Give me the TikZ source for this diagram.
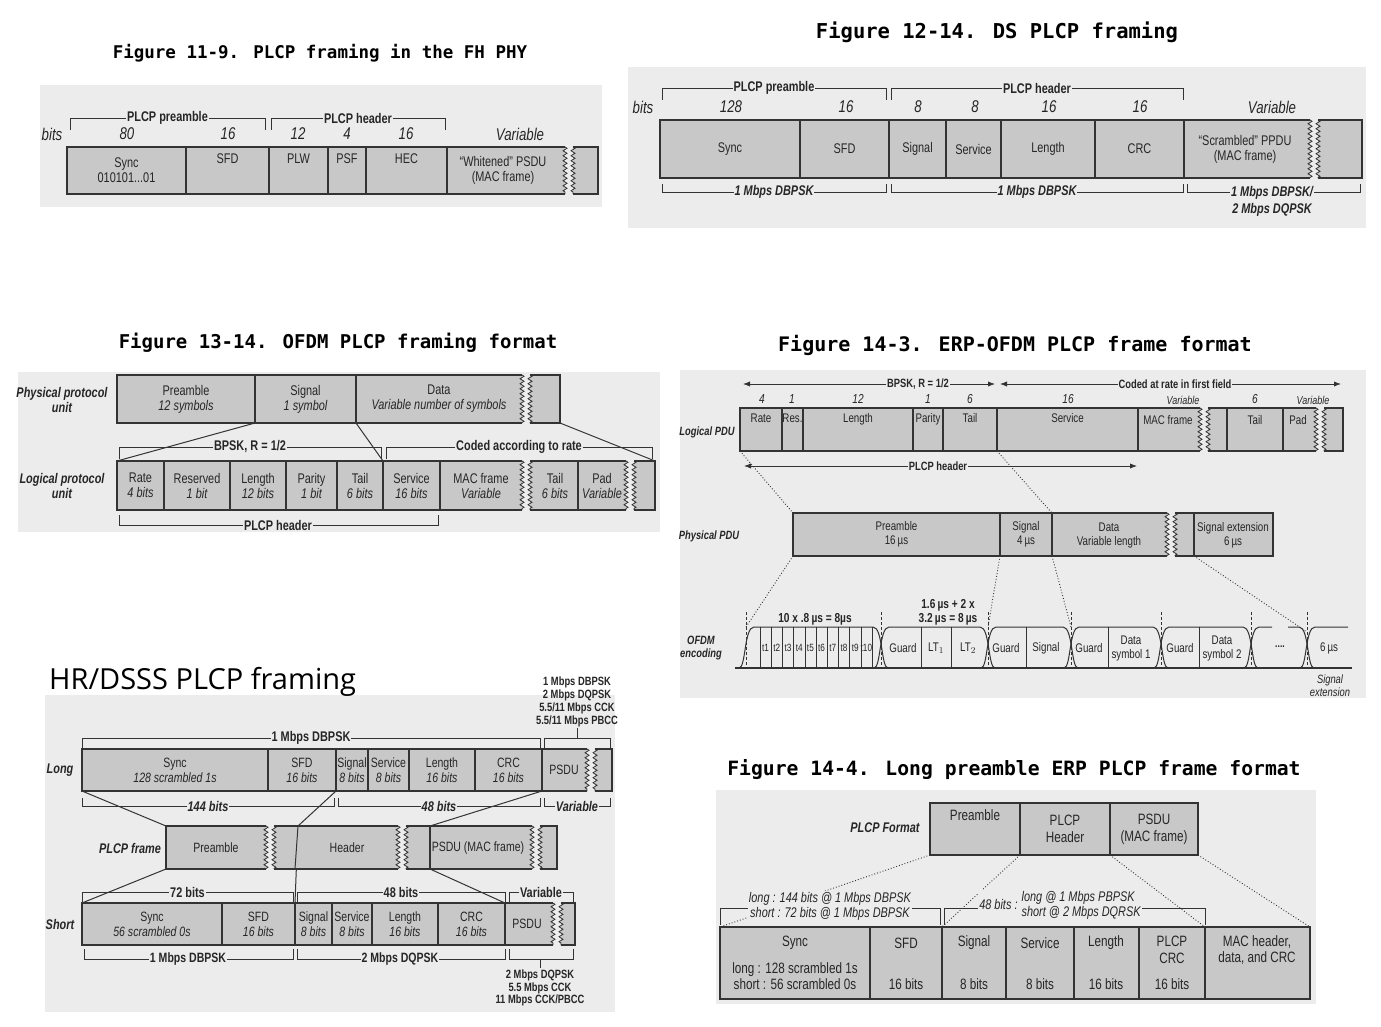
\documentclass[tikz,border=0pt]{standalone}
\usepackage{fontspec}
\setmainfont{Liberation Sans}
\newfontfamily\cond[FakeStretch=0.78]{Liberation Sans}
\newfontfamily\ttl{DejaVu Sans Mono}
\newfontfamily\osans{Open Sans}
\usetikzlibrary{decorations.pathmorphing,arrows.meta}
\definecolor{panelc}{HTML}{ECECEC}
\definecolor{boxc}{HTML}{C8C8C8}
\definecolor{linec}{HTML}{333333}
\tikzset{
 bx/.style={draw=linec,fill=boxc,line width=1.1pt},
 zz/.style={draw=linec,line width=0.8pt,decorate,decoration={zigzag,segment length=5,amplitude=2}},
 lbl/.style={font=\cond\fontsize{14}{15}\selectfont,align=center,text=black!85,inner sep=1pt},
 ilbl/.style={lbl,font=\cond\itshape\fontsize{14}{15}\selectfont},
 side/.style={lbl,font=\cond\bfseries\itshape\fontsize{14}{15}\selectfont},
 num/.style={lbl,font=\cond\itshape\fontsize{17}{17}\selectfont},
 tl/.style={font=\ttl\bfseries\fontsize{19}{20}\selectfont,inner sep=0pt},
 brl/.style={draw=linec,line width=0.8pt},
 dot/.style={draw=linec,line width=0.9pt,dotted},
 sol/.style={draw=linec,line width=1pt},
 panel/.style={fill=panelc,draw=none}
}
\newcommand\fld[5]{\draw[bx] (#1,#3) rectangle (#2,#4); \node[lbl] at ({(#1+#2)/2},{(#3+#4)/2}) {#5};}
\newcommand\brkgap[3]{\fill[panelc] (#1,#2-2) rectangle (#1+8,#3+2); \draw[zz] (#1,#2)--(#1,#3); \draw[zz] (#1+8,#2)--(#1+8,#3);}
\newcommand\brtop[4]{\draw[brl] (#1,#3+12) -- (#1,#3) -- (#2,#3) -- (#2,#3+12); \node[lbl,fill=panelc,font=\cond\bfseries\fontsize{14}{15}\selectfont] at ({(#1+#2)/2},#3) {#4};}
\newcommand\brbot[4]{\draw[brl] (#1,#3-8) -- (#1,#3) -- (#2,#3) -- (#2,#3-8); \node[lbl,fill=panelc,font=\cond\bfseries\itshape\fontsize{14}{15}\selectfont] at ({(#1+#2)/2},#3) {#4};}
\newcommand\sym[2]{\draw[linec,line width=1pt] (#1-7,668) .. controls (#1,668) and (#1-2,627) .. (#1+8,627) -- (#2-8,627) .. controls (#2+2,627) and (#2,668) .. (#2+7,668);}
\begin{document}
\begin{tikzpicture}[x=1pt,y=-1pt]
\useasboundingbox (0,0) rectangle (1381,1027);
\fill[white] (0,0) rectangle (1381,1027);
% ===== Panel 1: FH =====
\node[tl,font=\ttl\bfseries\fontsize{17.5}{18}\selectfont] (t1) at (320,53) {Figure 11-9. PLCP framing in the FH PHY};
\fill[panelc] (40,85) rectangle (602,207);
\fld{67}{186}{147}{194}{Sync\\010101...01}
\fld{186}{269}{147}{194}{SFD\\[9pt]~}
\fld{269}{328}{147}{194}{PLW\\[9pt]~}
\fld{328}{366}{147}{194}{PSF\\[9pt]~}
\fld{366}{447}{147}{194}{HEC\\[9pt]~}
\fld{447}{598}{147}{194}{}
\node[lbl] at (503,170) {“Whitened” PSDU\\(MAC frame)};
\brkgap{565}{147}{194}
\node[num] at (52,134) {bits};
\foreach \x/\t in {127/80,228/16,298/12,347/4,406/16,520/Variable} \node[num] at (\x,134) {\t};
\brtop{70}{265}{118}{PLCP preamble}
\brtop{271}{445}{118}{PLCP header}
% ===== Panel 2: DS =====
\node[tl,font=\ttl\bfseries\fontsize{20.5}{21}\selectfont] (t2) at (997,32) {Figure 12-14. DS PLCP framing};
\fill[panelc] (628,67) rectangle (1366,228);
\fld{660}{800}{120}{178}{Sync}
\fld{800}{889}{120}{178}{SFD}
\fld{889}{946}{120}{178}{Signal}
\fld{946}{1001}{120}{178}{Service}
\fld{1001}{1095}{120}{178}{Length}
\fld{1095}{1184}{120}{178}{CRC}
\fld{1184}{1362}{120}{178}{}
\node[lbl] at (1245,149) {“Scrambled” PPDU\\(MAC frame)};
\brkgap{1310}{120}{178}
\node[num] at (643,107) {bits};
\foreach \x/\t in {731/128,846/16,918/8,975/8,1049/16,1140/16,1272/Variable} \node[num] at (\x,107) {\t};
\brtop{662}{886}{88}{PLCP preamble}
\brtop{891}{1183}{88}{PLCP header}
\brbot{662}{886}{192}{1 Mbps DBPSK}
\brbot{891}{1183}{192}{1 Mbps DBPSK}
\draw[brl] (1187,184)--(1187,192)--(1360,192)--(1360,184);
\node[lbl,fill=panelc,font=\cond\bfseries\itshape\fontsize{14}{17}\selectfont] at (1272,201) {1 Mbps DBPSK/\\2 Mbps DQPSK};
% ===== Panel 3: OFDM =====
\node[tl] (t3) at (338,343) {Figure 13-14. OFDM PLCP framing format};
\fill[panelc] (18,372) rectangle (660,532);
\draw[sol] (255,423)--(117,461);
\draw[sol] (356,423)--(383,461);
\draw[sol] (560,423)--(655,461);
\fld{117}{255}{375}{423}{Preamble\\\itshape 12 symbols}
\fld{255}{356}{375}{423}{Signal\\\itshape 1 symbol}
\fld{356}{560}{375}{423}{}
\node[lbl] at (439,399) {Data\\\itshape Variable number of symbols};
\brkgap{522}{375}{423}
\fld{117}{164}{461}{510}{Rate\\\itshape 4 bits}
\fld{164}{230}{461}{510}{Reserved\\\itshape 1 bit}
\fld{230}{286}{461}{510}{Length\\\itshape 12 bits}
\fld{286}{337}{461}{510}{Parity\\\itshape 1 bit}
\fld{337}{383}{461}{510}{Tail\\\itshape 6 bits}
\fld{383}{440}{461}{510}{Service\\\itshape 16 bits}
\fld{440}{655}{461}{510}{}
\node[lbl] at (481,486) {MAC frame\\\itshape Variable};
\draw[bx] (578,461)--(578,510);
\node[lbl] at (555,486) {Tail\\\itshape 6 bits};
\node[lbl] at (602,486) {Pad\\\itshape Variable};
\brkgap{522}{461}{510}
\brkgap{626}{461}{510}
\node[side] at (62,400) {Physical protocol\\unit};
\node[side] at (62,486) {Logical protocol\\unit};
\brtop{119}{381}{447}{BPSK, R = 1/2}
\brtop{386}{652}{447}{Coded according to rate}
\draw[brl] (119,515)--(119,525)--(438,525)--(438,515);
\node[lbl,fill=panelc,font=\cond\bfseries\fontsize{14}{15}\selectfont] at (278,525) {PLCP header};
% ===== Panel 4: ERP-OFDM =====
\node[tl,font=\ttl\bfseries\fontsize{20}{21}\selectfont] (t4) at (1015,345) {Figure 14-3. ERP-OFDM PLCP frame format};
\fill[panelc] (680,370) rectangle (1366,698);
\draw[dot] (740,451)--(793,513);
\draw[dot] (997,451)--(1052,513);
\tikzset{lbl/.append style={font=\cond\fontsize{12.5}{14}\selectfont}}
\fld{740}{782}{408}{451}{Rate\\[9pt]~}
\fld{782}{803}{408}{451}{Res.\\[9pt]~}
\fld{803}{913}{408}{451}{Length\\[9pt]~}
\fld{913}{943}{408}{451}{Parity\\[9pt]~}
\fld{943}{997}{408}{451}{Tail\\[9pt]~}
\fld{997}{1138}{408}{451}{Service\\[9pt]~}
\fld{1138}{1343}{408}{451}{}
\node[lbl] at (1168,420) {MAC frame};
\draw[bx] (1227,408)--(1227,451);
\draw[bx] (1283,408)--(1283,451);
\node[lbl] at (1255,420) {Tail};
\node[lbl] at (1298,420) {Pad};
\brkgap{1200}{408}{451}
\brkgap{1316}{408}{451}
\foreach \x/\t in {762/4,792/1,858/12,928/1,970/6,1068/16,1255/6} \node[num,font=\cond\itshape\fontsize{13}{13}\selectfont] at (\x,399) {\t};
\node[ilbl,font=\cond\itshape\fontsize{11.5}{11}\selectfont] at (1183,400) {Variable};
\node[ilbl,font=\cond\itshape\fontsize{11.5}{11}\selectfont] at (1313,400) {Variable};
\draw[brl,{Latex[length=7pt]}-{Latex[length=7pt]}] (743,384)--(995,384);
\node[lbl,fill=panelc,font=\cond\bfseries\fontsize{12}{12}\selectfont] at (918,384) {BPSK, R = 1/2};
\draw[brl,{Latex[length=7pt]}-{Latex[length=7pt]}] (1000,384)--(1341,384);
\node[lbl,fill=panelc,font=\cond\bfseries\fontsize{12}{12}\selectfont] at (1175,384) {Coded at rate in first field};
\draw[brl,{Latex[length=7pt]}-{Latex[length=7pt]}] (744,466)--(1137,466);
\node[lbl,fill=panelc,font=\cond\bfseries\fontsize{12}{12}\selectfont] at (938,466) {PLCP header};
\node[side,font=\cond\bfseries\itshape\fontsize{12}{13}\selectfont] at (707,432) {Logical PDU};
\node[side,font=\cond\bfseries\itshape\fontsize{12}{13}\selectfont] at (709,536) {Physical PDU};
\node[side,font=\cond\bfseries\itshape\fontsize{12}{13}\selectfont] at (701,648) {OFDM\\encoding};
\fld{793}{1000}{513}{556}{Preamble\\16\,µs}
\fld{1000}{1052}{513}{556}{Signal\\4\,µs}
\fld{1052}{1273}{513}{556}{}
\node[lbl] at (1109,535) {Data\\Variable length};
\draw[bx] (1194,513)--(1194,556);
\node[lbl] at (1233,535) {Signal extension\\6\,µs};
\brkgap{1167}{513}{556}
\draw[dot] (793,556)--(746,627);
\draw[dot] (1000,556)--(988,627);
\draw[dot] (1052,556)--(1071,627);
\draw[dot] (1194,556)--(1307,632);
\foreach \x in {746,881,988,1071,1161,1251,1307} \draw[linec,densely dashed,line width=0.6pt] (\x,612)--(\x,668);
\draw[linec,line width=1.2pt] (735,668)--(1352,668);
\sym{746}{881}
\sym{881}{988}
\sym{988}{1071}
\sym{1071}{1161}
\sym{1161}{1251}
\draw[linec,line width=1pt] (1251-7,668) .. controls (1251,668) and (1251-2,627) .. (1251+8,627) -- (1272,627);
\draw[linec,line width=1pt] (1288,627) -- (1307-8,627) .. controls (1307+2,627) and (1307,668) .. (1307+7,668);
\draw[linec,line width=1pt] (1307-7,668) .. controls (1307,668) and (1307-2,627) .. (1307+8,627) -- (1348,627);
\foreach \i in {1,...,10} {
  \draw[linec,line width=0.6pt] ({760+(\i-1)*11.2},627)--({760+(\i-1)*11.2},668);
  \node[lbl,font=\cond\fontsize{10.5}{10}\selectfont] at ({765.6+(\i-1)*11.2},648) {t\i};}
\draw[linec,line width=0.6pt] (872,627)--(872,668);
\draw[linec,line width=0.6pt] (921,627)--(921,668);
\draw[linec,line width=0.6pt] (951,627)--(951,668);
\draw[linec,line width=0.6pt] (1026,627)--(1026,668);
\draw[linec,line width=0.6pt] (1108,627)--(1108,668);
\draw[linec,line width=0.6pt] (1199,627)--(1199,668);
\node[lbl] at (903,648) {Guard};
\node[lbl] at (936,648) {LT$_1$};
\node[lbl] at (968,648) {LT$_2$};
\node[lbl] at (1006,648) {Guard};
\node[lbl] at (1046,648) {Signal};
\node[lbl] at (1089,648) {Guard};
\node[lbl] at (1131,648) {Data\\symbol 1};
\node[lbl] at (1180,648) {Guard};
\node[lbl] at (1222,648) {Data\\symbol 2};
\node[lbl,font=\cond\bfseries\fontsize{11}{11}\selectfont] at (1280,647) {....};
\node[lbl] at (1329,648) {6\,µs};
\node[lbl,font=\cond\bfseries\fontsize{13}{13}\selectfont] at (815,619) {10 x .8\,µs = 8µs};
\node[lbl,font=\cond\bfseries\fontsize{13}{14}\selectfont] at (948,612) {1.6\,µs + 2 x\\3.2\,µs = 8\,µs};
\node[ilbl,font=\cond\itshape\fontsize{12}{13}\selectfont] at (1330,686) {Signal\\extension};
\tikzset{lbl/.append style={font=\cond\fontsize{13.5}{15}\selectfont}}
% ===== Panel 5: HR/DSSS =====
\fill[panelc] (45,695) rectangle (615,1012);
\node[font=\osans\fontsize{29}{30}\selectfont,anchor=west,inner sep=0pt] (t5) at (49,682) {HR/DSSS PLCP framing};
\draw[sol] (82,791)--(166,826);
\draw[sol] (336,791)--(298,826)--(295,903);
\draw[sol] (542,791)--(430,826);
\draw[sol] (166,869)--(82,903);
\draw[sol] (430,869)--(505,903);
\fld{82}{268}{749}{791}{Sync\\\itshape 128 scrambled 1s}
\fld{268}{336}{749}{791}{SFD\\\itshape 16 bits}
\fld{336}{368}{749}{791}{Signal\\\itshape 8 bits}
\fld{368}{409}{749}{791}{Service\\\itshape 8 bits}
\fld{409}{475}{749}{791}{Length\\\itshape 16 bits}
\fld{475}{542}{749}{791}{CRC\\\itshape 16 bits}
\fld{542}{612}{749}{791}{}
\node[lbl] at (564,770) {PSDU};
\brkgap{587}{749}{791}
\node[side] at (60,770) {Long};
\brtop{82}{540}{738}{1 Mbps DBPSK}
\draw[brl] (544,750)--(544,738)--(610,738)--(610,750);
\draw[brl] (577,738)--(577,728);
\node[lbl,font=\cond\bfseries\fontsize{12}{12.8}\selectfont] at (577,702) {1 Mbps DBPSK\\2 Mbps DQPSK\\5.5/11 Mbps CCK\\5.5/11 Mbps PBCC};
\brbot{82}{334}{806}{144 bits}
\brbot{338}{540}{806}{48 bits}
\brbot{544}{610}{806}{Variable}
\fld{166}{557}{826}{869}{}
\node[lbl] at (216,848) {Preamble};
\node[lbl] at (347,848) {Header};
\node[lbl] at (478,848) {PSDU (MAC frame)};
\brkgap{266}{826}{869}
\brkgap{398}{826}{869}
\brkgap{532}{826}{869}
\draw[bx] (430,826)--(430,869);
\draw[sol] (298,826)--(295,869);
\node[side] at (130,848) {PLCP frame};
\brtop{82}{293}{892}{72 bits}
\brtop{297}{505}{892}{48 bits}
\brtop{509}{573}{892}{Variable}
\fld{82}{222}{903}{945}{Sync\\\itshape 56 scrambled 0s}
\fld{222}{295}{903}{945}{SFD\\\itshape 16 bits}
\fld{295}{332}{903}{945}{Signal\\\itshape 8 bits}
\fld{332}{372}{903}{945}{Service\\\itshape 8 bits}
\fld{372}{438}{903}{945}{Length\\\itshape 16 bits}
\fld{438}{505}{903}{945}{CRC\\\itshape 16 bits}
\fld{505}{575}{903}{945}{}
\node[lbl] at (527,924) {PSDU};
\brkgap{553}{903}{945}
\node[side] at (60,924) {Short};
\draw[brl] (84,949)--(84,959)--(293,959)--(293,949);
\node[lbl,fill=panelc,font=\cond\bfseries\fontsize{13.5}{15}\selectfont] at (188,959) {1 Mbps DBPSK};
\draw[brl] (297,949)--(297,959)--(505,959)--(505,949);
\node[lbl,fill=panelc,font=\cond\bfseries\fontsize{13.5}{15}\selectfont] at (400,959) {2 Mbps DQPSK};
\draw[brl] (509,949)--(509,959)--(573,959)--(573,949);
\draw[brl] (540,959)--(540,968);
\node[lbl,font=\cond\bfseries\fontsize{12}{12.8}\selectfont] at (540,988) {2 Mbps DQPSK\\5.5 Mbps CCK\\11 Mbps CCK/PBCC};
% ===== Panel 6: Long preamble ERP =====
\node[tl,font=\ttl\bfseries\fontsize{19.7}{21}\selectfont] (t6) at (1014,770) {Figure 14-4. Long preamble ERP PLCP frame format};
\fill[panelc] (716,790) rectangle (1316,1004);
\draw[dot] (930,855)--(720,927);
\draw[dot] (1020,855)--(942,927);
\draw[dot] (1110,855)--(1205,927);
\draw[dot] (1198,855)--(1310,927);
\tikzset{lbl/.append style={font=\cond\fontsize{15}{17}\selectfont}}
\fld{930}{1020}{803}{855}{Preamble\\[10pt]~}
\fld{1020}{1110}{803}{855}{PLCP\\Header}
\fld{1110}{1198}{803}{855}{PSDU\\(MAC frame)}
\node[side] at (885,828) {PLCP Format};
\tikzset{big/.style={lbl,font=\cond\fontsize{15}{16.5}\selectfont}}
\foreach \a/\b in {720/870,870/942,942/1006,1006/1074,1074/1139,1139/1205,1205/1310} \draw[bx] (\a,927) rectangle (\b,999);
\node[big] at (795,943) {Sync};
\node[big] at (795,976) {long : 128 scrambled 1s\\short : 56 scrambled 0s};
\node[big] at (906,943) {SFD};
\node[big] at (906,984) {16 bits};
\node[big] at (974,943) {Signal};
\node[big] at (974,984) {8 bits};
\node[big] at (1040,943) {Service};
\node[big] at (1040,984) {8 bits};
\node[big] at (1106,943) {Length};
\node[big] at (1106,984) {16 bits};
\node[big] at (1172,950) {PLCP\\CRC};
\node[big] at (1172,984) {16 bits};
\node[big] at (1257,950) {MAC header,\\data, and CRC};
\draw[brl] (720,925)--(720,908)--(940,908)--(940,925);
\node[ilbl,fill=panelc,font=\cond\itshape\fontsize{14}{15}\selectfont] at (830,906) {long : 144 bits @ 1 Mbps DBPSK\\short : 72 bits @ 1 Mbps DBPSK};
\draw[brl] (944,925)--(944,908)--(1205,908)--(1205,925);
\node[ilbl,fill=panelc,font=\cond\itshape\fontsize{14}{15}\selectfont] at (1060,906) {48 bits : \begin{tabular}{@{}l@{}}long @ 1 Mbps PBPSK\\short @ 2 Mbps DQRSK\end{tabular}};
\end{tikzpicture}
\end{document}
